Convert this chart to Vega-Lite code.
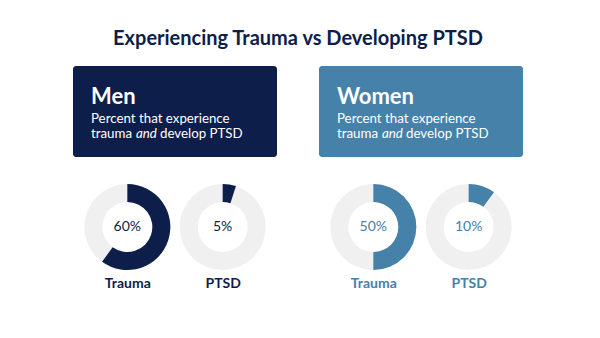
{
  "$schema": "https://vega.github.io/schema/vega-lite/v6.json",
  "background": "white",
  "padding": {"left": 73, "top": 29, "right": 0, "bottom": 0},
  "title": {"text": "Experiencing Trauma vs Developing PTSD", "font": "Lato", "fontSize": 20, "fontWeight": "bold", "color": "#0d1e4b", "anchor": "middle", "offset": 17},
  "datasets": {
    "headers": [
      {"sex": "Men", "line": "heading", "part": "a", "text": "Men"},
      {"sex": "Men", "line": "sub1", "part": "a", "text": "Percent that experience"},
      {"sex": "Men", "line": "sub2", "part": "a", "text": "trauma"},
      {"sex": "Men", "line": "sub2", "part": "b", "text": "and"},
      {"sex": "Men", "line": "sub2", "part": "c", "text": "develop PTSD"},
      {"sex": "Women", "line": "heading", "part": "a", "text": "Women"},
      {"sex": "Women", "line": "sub1", "part": "a", "text": "Percent that experience"},
      {"sex": "Women", "line": "sub2", "part": "a", "text": "trauma"},
      {"sex": "Women", "line": "sub2", "part": "b", "text": "and"},
      {"sex": "Women", "line": "sub2", "part": "c", "text": "develop PTSD"}
    ],
    "donuts": [
      {"sex": "Men", "measure": "Trauma", "value": 0.60},
      {"sex": "Men", "measure": "PTSD", "value": 0.05},
      {"sex": "Women", "measure": "Trauma", "value": 0.50},
      {"sex": "Women", "measure": "PTSD", "value": 0.10}
    ]
  },
  "spacing": 42,
  "hconcat": [
    {
      "spacing": 27,
      "vconcat": [
        {
          "width": 204, "height": 91,
          "view": {"fill": "#0d1e4b", "cornerRadius": 3, "stroke": null},
          "data": {"name": "headers"},
          "transform": [{"filter": "datum.sex == 'Men'"}],
          "encoding": {
            "x": {"field": "sex", "type": "nominal", "bandPosition": 0, "scale": {"type": "band", "paddingInner": 0, "paddingOuter": 0.107}, "axis": null},
            "y": {"field": "line", "type": "nominal", "scale": {"type": "point", "domain": ["heading", "sub1", "sub2"], "range": [42, 72], "padding": 0}, "axis": null},
            "text": {"field": "text"}
          },
          "layer": [
            {"transform": [{"filter": "datum.line == 'heading'"}], "mark": {"type": "text", "align": "left", "baseline": "alphabetic", "font": "Lato", "fontSize": 22, "fontWeight": "bold", "color": "white", "dy": -4}},
            {"transform": [{"filter": "datum.line == 'sub1' || (datum.line == 'sub2' && datum.part == 'a')"}], "mark": {"type": "text", "align": "left", "baseline": "alphabetic", "font": "Lato", "fontSize": 13.3, "color": "white"}},
            {"transform": [{"filter": "datum.line == 'sub2' && datum.part == 'b'"}], "mark": {"type": "text", "align": "left", "baseline": "alphabetic", "font": "Lato", "fontSize": 13.3, "fontStyle": "italic", "color": "white", "dx": 45}},
            {"transform": [{"filter": "datum.line == 'sub2' && datum.part == 'c'"}], "mark": {"type": "text", "align": "left", "baseline": "alphabetic", "font": "Lato", "fontSize": 13.3, "color": "white", "dx": 69}}
          ]
        },
        {
          "width": 204, "height": 86,
          "data": {"name": "donuts"},
          "transform": [{"filter": "datum.sex == 'Men'"}],
          "encoding": {
            "x": {"field": "measure", "type": "nominal", "sort": ["Trauma", "PTSD"], "scale": {"type": "point", "padding": 0.57},
              "axis": {"title": null, "domain": false, "ticks": false, "grid": false, "labelAngle": 0, "labelFont": "Lato", "labelFontSize": 14, "labelFontWeight": "bold", "labelColor": "#0d1e4b", "labelPadding": 6}}
          },
          "layer": [
            {"mark": {"type": "arc", "theta": 0, "theta2": 6.2832, "radius": 43, "radius2": 25, "color": "#f0f0f0"}},
            {"mark": {"type": "arc", "radius": 43, "radius2": 25, "color": "#0d1e4b"},
              "encoding": {"theta": {"field": "value", "type": "quantitative", "stack": null, "scale": {"domain": [0, 1], "range": [0, 6.2832]}}}},
            {"mark": {"type": "text", "font": "Lato", "fontSize": 14, "color": "#0d1e4b", "baseline": "middle"},
              "encoding": {"text": {"field": "value", "type": "quantitative", "format": ".0%"}}}
          ]
        }
      ]
    },
    {
      "spacing": 27,
      "vconcat": [
        {
          "width": 204, "height": 91,
          "view": {"fill": "#4581a9", "cornerRadius": 3, "stroke": null},
          "data": {"name": "headers"},
          "transform": [{"filter": "datum.sex == 'Women'"}],
          "encoding": {
            "x": {"field": "sex", "type": "nominal", "bandPosition": 0, "scale": {"type": "band", "paddingInner": 0, "paddingOuter": 0.107}, "axis": null},
            "y": {"field": "line", "type": "nominal", "scale": {"type": "point", "domain": ["heading", "sub1", "sub2"], "range": [42, 72], "padding": 0}, "axis": null},
            "text": {"field": "text"}
          },
          "layer": [
            {"transform": [{"filter": "datum.line == 'heading'"}], "mark": {"type": "text", "align": "left", "baseline": "alphabetic", "font": "Lato", "fontSize": 22, "fontWeight": "bold", "color": "white", "dy": -4}},
            {"transform": [{"filter": "datum.line == 'sub1' || (datum.line == 'sub2' && datum.part == 'a')"}], "mark": {"type": "text", "align": "left", "baseline": "alphabetic", "font": "Lato", "fontSize": 13.3, "color": "white"}},
            {"transform": [{"filter": "datum.line == 'sub2' && datum.part == 'b'"}], "mark": {"type": "text", "align": "left", "baseline": "alphabetic", "font": "Lato", "fontSize": 13.3, "fontStyle": "italic", "color": "white", "dx": 45}},
            {"transform": [{"filter": "datum.line == 'sub2' && datum.part == 'c'"}], "mark": {"type": "text", "align": "left", "baseline": "alphabetic", "font": "Lato", "fontSize": 13.3, "color": "white", "dx": 69}}
          ]
        },
        {
          "width": 204, "height": 86,
          "data": {"name": "donuts"},
          "transform": [{"filter": "datum.sex == 'Women'"}],
          "encoding": {
            "x": {"field": "measure", "type": "nominal", "sort": ["Trauma", "PTSD"], "scale": {"type": "point", "padding": 0.57},
              "axis": {"title": null, "domain": false, "ticks": false, "grid": false, "labelAngle": 0, "labelFont": "Lato", "labelFontSize": 14, "labelFontWeight": "bold", "labelColor": "#4581a9", "labelPadding": 6}}
          },
          "layer": [
            {"mark": {"type": "arc", "theta": 0, "theta2": 6.2832, "radius": 43, "radius2": 25, "color": "#f0f0f0"}},
            {"mark": {"type": "arc", "radius": 43, "radius2": 25, "color": "#4581a9"},
              "encoding": {"theta": {"field": "value", "type": "quantitative", "stack": null, "scale": {"domain": [0, 1], "range": [0, 6.2832]}}}},
            {"mark": {"type": "text", "font": "Lato", "fontSize": 14, "color": "#4581a9", "baseline": "middle"},
              "encoding": {"text": {"field": "value", "type": "quantitative", "format": ".0%"}}}
          ]
        }
      ]
    }
  ],
  "config": {"view": {"stroke": null}, "font": "Lato"}
}
